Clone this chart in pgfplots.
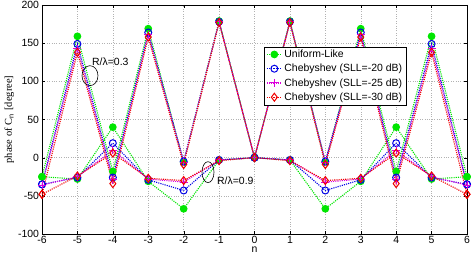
\documentclass[border=0pt]{standalone}
\usepackage{pgfplots}
\pgfplotsset{compat=1.18}
\usepackage{fontspec}
\setmainfont{Liberation Sans}
\newfontfamily\seriffont{Liberation Serif}

\definecolor{mgreen}{RGB}{0,230,0}
\definecolor{mblue}{RGB}{0,0,230}
\definecolor{mmag}{RGB}{220,0,220}
\definecolor{mred}{RGB}{240,0,0}

% phase of the excitation coefficients, R/lambda = 0.3
\pgfplotstableread{
n  uni  ch20 ch25 ch30
-6 -25  -35  -36  -48
-5 159  149  143  138
-4 -18  -26  -29  -34
-3 169  164  161  158
-2 -6   -5   -6   -9
-1 179  178  178  177
0  0    0    0    0
1  179  178  178  177
2  -6   -5   -6   -9
3  169  164  161  158
4  -18  -26  -29  -34
5  159  149  143  138
6  -25  -35  -36  -48
}\tabA

% phase of the excitation coefficients, R/lambda = 0.9
\pgfplotstableread{
n  uni  ch20 ch25 ch30
-6 -25  -35  -36  -48
-5 -28  -26  -25  -24
-4 40   19   10   6
-3 -31  -29  -28  -27
-2 -67  -43  -32  -30
-1 -3   -3   -3   -4
0  0    0    0    0
1  -3   -3   -3   -4
2  -67  -43  -32  -30
3  -31  -29  -28  -27
4  40   19   10   6
5  -28  -26  -25  -24
6  -25  -35  -36  -48
}\tabB

\begin{document}
\begin{tikzpicture}[x=1bp,y=1bp]
\begin{axis}[
  scale only axis,
  width=425bp, height=229bp,
  xmin=-6, xmax=6, ymin=-100, ymax=200,
  xtick={-6,...,6}, ytick={-100,-50,...,200},
  grid=major,
  major grid style={gray!60, dotted, line width=0.5pt},
  tick align=inside,
  major tick length=3bp,
  tick style={black},
  axis line style={black, line width=0.5pt},
  ticklabel style={font=\fontsize{10.5}{11}\selectfont},
  /pgf/number format/assume math mode=true,
  xticklabel style={yshift=1bp},
  yticklabel style={xshift=0.5bp},
  xlabel={n},
  xlabel style={font=\fontsize{10.5}{11}\selectfont, yshift=3.5bp},
  ylabel={\seriffont phase of C$_{\mathrm{n}}$\,\,[degree]},
  ylabel style={font=\fontsize{10.5}{11}\selectfont, yshift=-3bp},
  every axis plot/.append style={line width=1.1pt, dash pattern=on 1.1pt off 1.1pt},
  legend image code/.code={
    \draw[mark repeat=2, mark phase=2] plot coordinates {(0bp,0bp) (7.5bp,0bp) (15bp,0bp)};
  },
  legend style={
    at={(axis cs:0.27,145.4)}, anchor=north west,
    font=\fontsize{10.5}{11}\selectfont,
    draw=black, line width=0.5pt, fill=white,
    inner xsep=2bp, inner ysep=1bp, row sep=1.2bp,
    /tikz/every even column/.append style={column sep=2bp},
  },
  legend cell align=left,
]
% R/lambda = 0.9 (drawn first, kept out of the legend)
\addplot[mgreen, mark=*, mark size=3.3, mark options={solid, fill=mgreen}, forget plot] table[x=n,y=uni] {\tabB};
\addplot[mblue, mark=o, mark size=3.5, mark options={solid, line width=1pt}, forget plot] table[x=n,y=ch20] {\tabB};
\addplot[mmag, mark=+, mark size=4, mark options={solid, line width=1pt}, forget plot] table[x=n,y=ch25] {\tabB};
\addplot[mred, mark=diamond, mark size=4, mark options={solid, line width=1pt}, forget plot] table[x=n,y=ch30] {\tabB};
% R/lambda = 0.3
\addplot[mgreen, mark=*, mark size=3.3, mark options={solid, fill=mgreen}] table[x=n,y=uni] {\tabA};
\addlegendentry{Uniform-Like}
\addplot[mblue, mark=o, mark size=3.5, mark options={solid, line width=1pt}] table[x=n,y=ch20] {\tabA};
\addlegendentry{Chebyshev (SLL=-20 dB)}
\addplot[mmag, mark=+, mark size=4, mark options={solid, line width=1pt}] table[x=n,y=ch25] {\tabA};
\addlegendentry{Chebyshev (SLL=-25 dB)}
\addplot[mred, mark=diamond, mark size=4, mark options={solid, line width=1pt}] table[x=n,y=ch30] {\tabA};
\addlegendentry{Chebyshev (SLL=-30 dB)}
% annotations
\draw[black, line width=0.6pt] (axis cs:-4.645,107.4) ellipse [x radius=8bp, y radius=10bp];
\node[anchor=west, inner sep=0pt, font=\fontsize{10.5}{11}\selectfont] at (axis cs:-4.59,125.8) {R/λ=0.3};
\draw[black, line width=0.6pt] (axis cs:-1.313,-19) ellipse [x radius=6bp, y radius=10.5bp];
\node[anchor=west, inner sep=0pt, font=\fontsize{10.5}{11}\selectfont] at (axis cs:-1.06,-30) {R/λ=0.9};
\coordinate (bl) at (rel axis cs:0,0);
\coordinate (tr) at (rel axis cs:1,1);
\end{axis}
\pgfresetboundingbox
\path ([shift={(-42bp,-24bp)}]bl) rectangle ([shift={(7bp,5bp)}]tr);
\end{tikzpicture}
\end{document}
